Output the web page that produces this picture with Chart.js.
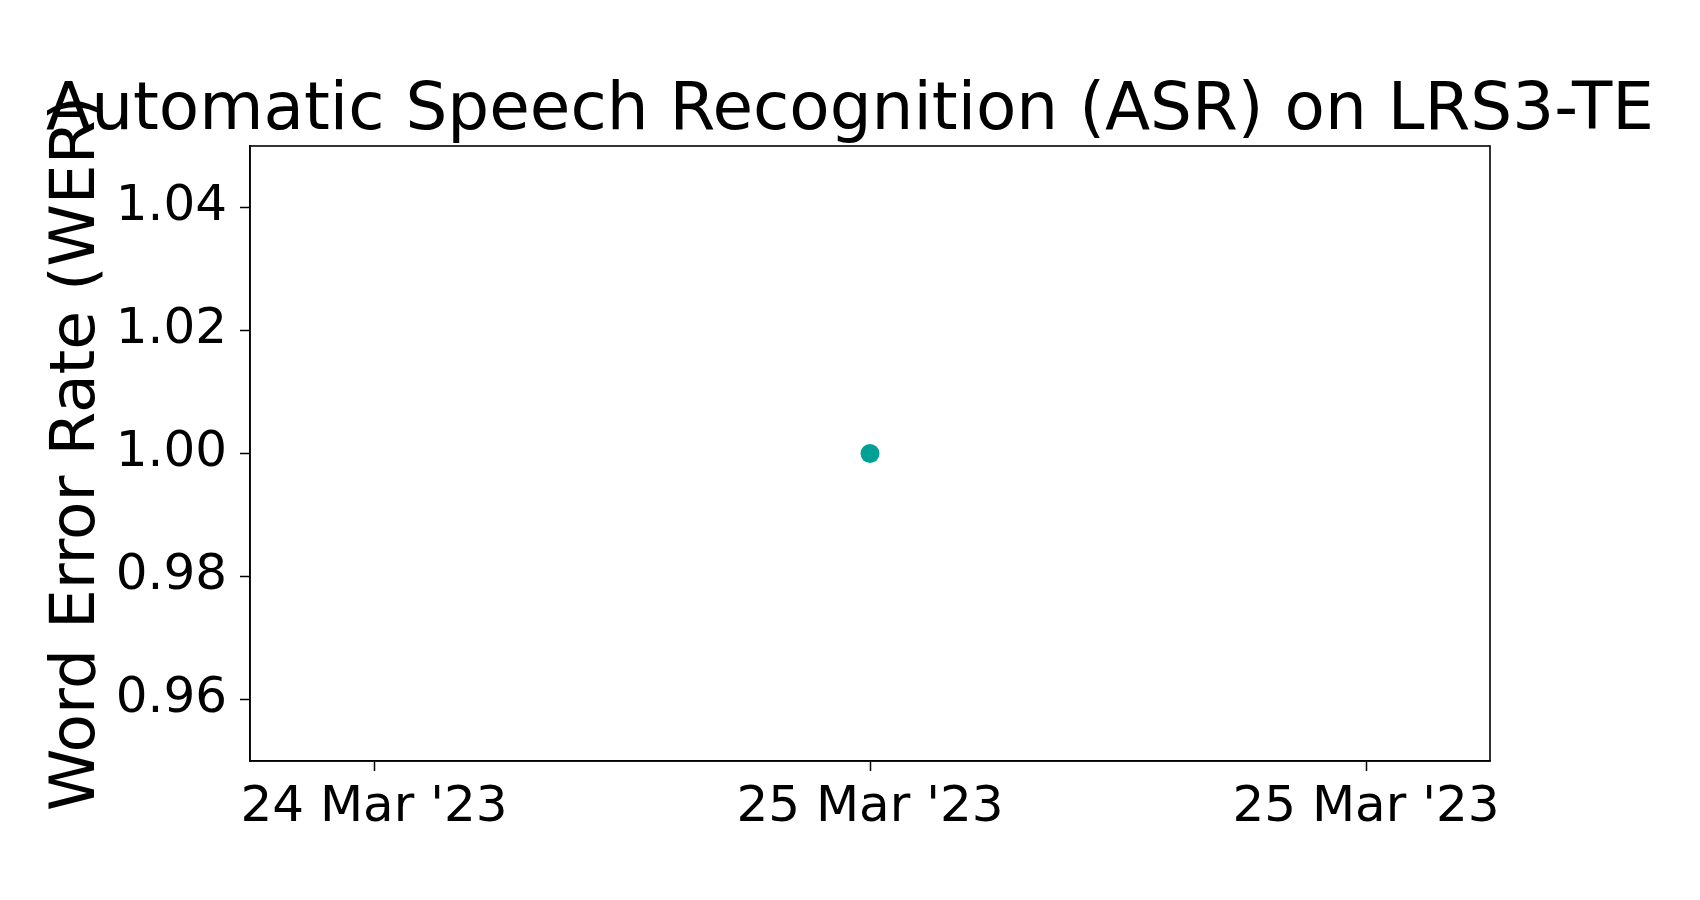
<!DOCTYPE html>
<html>
<head>
<meta charset="utf-8">
<script src="https://cdn.jsdelivr.net/npm/chart.js@4"></script>
<style>
  html, body { margin: 0; padding: 0; background: #fff; }
  #wrap { width: 1700px; height: 900px; }
</style>
</head>
<body>
<div id="wrap"><canvas id="werChart" width="1700" height="900"></canvas></div>
<script>
// data
const dates = ['2023-03-25T00:00:00Z'];
const werValues = [1.00];
const yTicks = [0.96, 0.98, 1.00, 1.02, 1.04];
const xTickOffsetsHours = [-12, 0, 12];
const months = ['Jan', 'Feb', 'Mar', 'Apr', 'May', 'Jun', 'Jul', 'Aug', 'Sep', 'Oct', 'Nov', 'Dec'];

const HOUR = 3600 * 1000;
const times = dates.map(d => Date.parse(d));
const t0 = times[0];

function fmtDate(ms) {
    const d = new Date(ms);
    const yy = String(d.getUTCFullYear()).slice(2);
    return d.getUTCDate() + ' ' + months[d.getUTCMonth()] + " '" + yy;
}

Chart.defaults.font.family = "'DejaVu Sans', sans-serif";
Chart.defaults.color = '#000';

// draws the full box round the plot, like the matplotlib frame
const frame = {
    id: 'frame',
    afterDraw(chart) {
        const { ctx, chartArea: a } = chart;
        ctx.save();
        ctx.strokeStyle = '#000';
        ctx.lineWidth = 1.6;
        ctx.strokeRect(a.left, a.top, a.right - a.left, a.bottom - a.top);
        ctx.restore();
    }
};

new Chart(document.getElementById('werChart').getContext('2d'), {
    type: 'scatter',
    data: {
        datasets: [{
            label: 'WER',
            data: times.map((t, i) => ({ x: t, y: werValues[i] })),
            backgroundColor: '#00A095',
            borderWidth: 0,
            pointRadius: 9.5,
            pointHoverRadius: 9.5
        }]
    },
    options: {
        responsive: false,
        animation: false,
        devicePixelRatio: 1,
        layout: { padding: 0 },
        plugins: {
            legend: { display: false },
            tooltip: { enabled: false },
            title: {
                display: true,
                text: 'Automatic Speech Recognition (ASR) on LRS3-TE',
                color: '#000',
                font: { size: 66, weight: 'normal', lineHeight: 1 },
                padding: { top: 79, bottom: 1 }
            }
        },
        scales: {
            x: {
                type: 'linear',
                min: t0 - 15 * HOUR,
                max: t0 + 15 * HOUR,
                afterBuildTicks: s => { s.ticks = xTickOffsetsHours.map(h => ({ value: t0 + h * HOUR })); },
                afterFit: s => { s.height = 139; },
                grid: { display: true, drawOnChartArea: false, tickLength: 10, tickColor: '#000', tickWidth: 1.5 },
                border: { display: true, color: '#000', width: 1.6 },
                ticks: {
                    color: '#000',
                    font: { size: 50 },
                    padding: 7,
                    maxRotation: 0,
                    autoSkip: false,
                    callback: v => fmtDate(v)
                }
            },
            y: {
                min: 0.95,
                max: 1.05,
                afterBuildTicks: s => { s.ticks = yTicks.map(v => ({ value: v })); },
                afterFit: s => { s.width = 250; },
                grid: { display: true, drawOnChartArea: false, tickLength: 10, tickColor: '#000', tickWidth: 1.5 },
                border: { display: true, color: '#000', width: 1.6 },
                ticks: {
                    color: '#000',
                    font: { size: 50 },
                    padding: 13,
                    callback: v => v.toFixed(2)
                },
                title: {
                    display: true,
                    text: 'Word Error Rate (WER)',
                    color: '#000',
                    font: { size: 63 },
                    padding: { top: 40, bottom: 0 }
                }
            },
            // empty right column so the title centres on the whole figure
            pad: {
                position: 'right',
                display: true,
                afterFit: s => { s.width = 210; },
                grid: { display: false },
                border: { display: false },
                ticks: { display: false }
            }
        }
    },
    plugins: [frame]
});
</script>
</body>
</html>
